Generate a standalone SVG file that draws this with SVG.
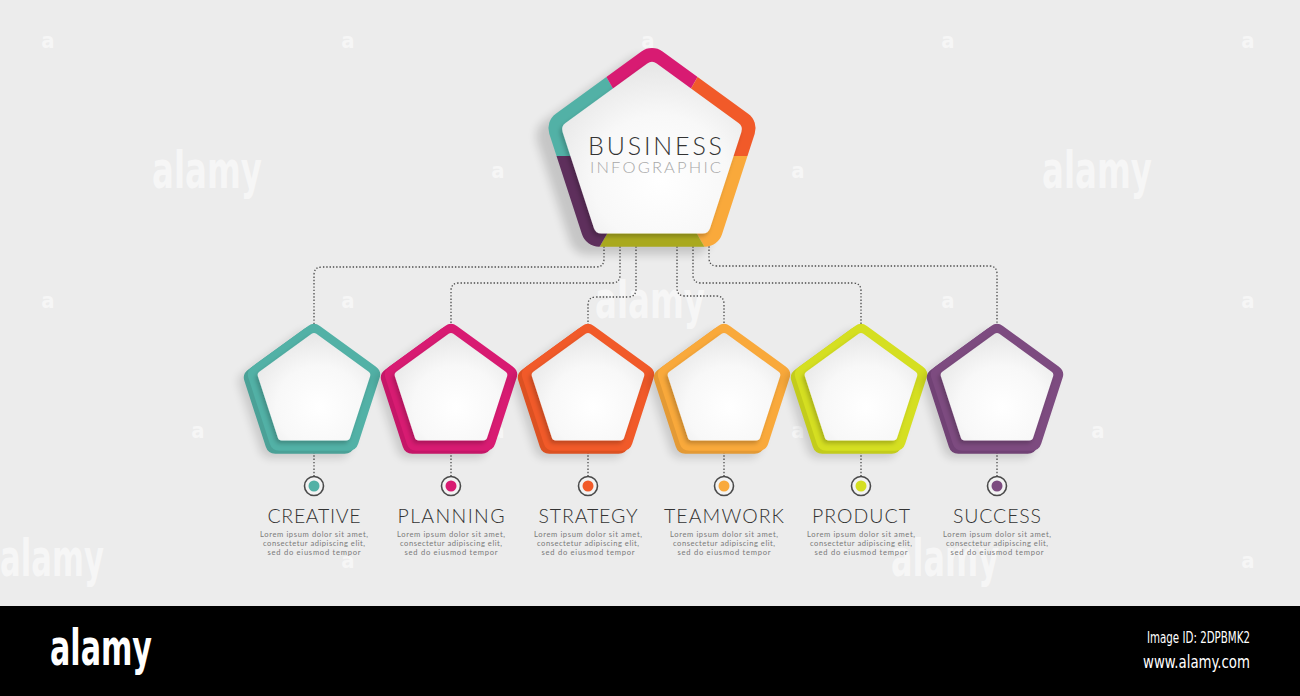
<svg xmlns="http://www.w3.org/2000/svg" xmlns:xlink="http://www.w3.org/1999/xlink" width="1300" height="696" viewBox="0 0 1300 696">
<style>
.conn{fill:none;stroke:#4a4a4a;stroke-width:1.3;stroke-dasharray:1.4 1.9;}
.lbl{font-family:Lato,"Open Sans","Liberation Sans",sans-serif;font-weight:300;font-size:19.5px;fill:#333;text-anchor:middle;}
.desc{font-family:Lato,"Open Sans","Liberation Sans",sans-serif;font-size:7.6px;fill:#7a7a7a;text-anchor:middle;}
.ring{stroke-width:20;stroke-linejoin:round;}
.inner{fill:url(#wg);stroke:url(#wg);stroke-width:8;stroke-linejoin:round;filter:url(#ds);}
.dotc{fill:#f3f3f3;stroke:#4a4a4a;stroke-width:1.6;}
.wm{font-family:"DejaVu Sans Condensed","DejaVu Sans",sans-serif;font-weight:bold;fill:#ffffff;fill-opacity:0.55;text-anchor:middle;}
.foot{font-family:"DejaVu Sans Condensed","DejaVu Sans",sans-serif;fill:#fff;}
.shd{fill:#000;opacity:0.15;stroke:#000;stroke-width:20;stroke-linejoin:round;filter:url(#sh);}
.ext{stroke-width:20;stroke-linejoin:round;filter:url(#dk);}
</style>
<defs>
<path id="po" d="M0,-59 L56.11,-18.23 L34.68,47.73 L-34.68,47.73 L-56.11,-18.23 Z"/>
<path id="pi" d="M0,-55 L52.31,-17 L32.33,44.5 L-32.33,44.5 L-52.31,-17 Z"/>
<radialGradient id="wg" cx="0.55" cy="0.7" r="0.75">
<stop offset="0" stop-color="#ffffff"/>
<stop offset="0.55" stop-color="#f8f8f8"/>
<stop offset="1" stop-color="#e6e6e6"/>
</radialGradient>
<filter id="ds" x="-30%" y="-30%" width="160%" height="160%">
<feDropShadow dx="-2" dy="3" stdDeviation="2" flood-color="#000" flood-opacity="0.22"/>
</filter>
<filter id="sh" x="-40%" y="-40%" width="180%" height="180%">
<feGaussianBlur stdDeviation="5"/>
</filter>
<filter id="dk" x="-20%" y="-20%" width="140%" height="140%">
<feComponentTransfer>
<feFuncR type="linear" slope="0.82"/>
<feFuncG type="linear" slope="0.82"/>
<feFuncB type="linear" slope="0.82"/>
</feComponentTransfer>
</filter>
<mask id="bigRing" maskUnits="userSpaceOnUse" x="400" y="0" width="500" height="300">
<path d="M652,66 L737.6,128.19 L704.9,228.81 L599.1,228.81 L566.4,128.19 Z" fill="#fff" stroke="#fff" stroke-width="36" stroke-linejoin="round"/>
</mask>
</defs>

<rect x="0" y="0" width="1300" height="606" fill="#ececec"/>

<g id="watermark">
<text class="wm" x="207" y="188" font-size="52" textLength="110" lengthAdjust="spacingAndGlyphs">alamy</text>
<text class="wm" x="1097" y="188" font-size="52" textLength="110" lengthAdjust="spacingAndGlyphs">alamy</text>
<text class="wm" x="650" y="318" font-size="52" textLength="110" lengthAdjust="spacingAndGlyphs">alamy</text>
<text class="wm" x="52" y="576" font-size="52" textLength="104" lengthAdjust="spacingAndGlyphs">alamy</text>
<text class="wm" x="945" y="576" font-size="52" textLength="108" lengthAdjust="spacingAndGlyphs">alamy</text>
<text class="wm" x="48" y="48" font-size="22">a</text>
<text class="wm" x="348" y="48" font-size="22">a</text>
<text class="wm" x="648" y="48" font-size="22">a</text>
<text class="wm" x="948" y="48" font-size="22">a</text>
<text class="wm" x="1248" y="48" font-size="22">a</text>
<text class="wm" x="498" y="178" font-size="22">a</text>
<text class="wm" x="798" y="178" font-size="22">a</text>
<text class="wm" x="48" y="308" font-size="22">a</text>
<text class="wm" x="348" y="308" font-size="22">a</text>
<text class="wm" x="948" y="308" font-size="22">a</text>
<text class="wm" x="1248" y="308" font-size="22">a</text>
<text class="wm" x="198" y="438" font-size="22">a</text>
<text class="wm" x="498" y="438" font-size="22">a</text>
<text class="wm" x="798" y="438" font-size="22">a</text>
<text class="wm" x="1098" y="438" font-size="22">a</text>
<text class="wm" x="348" y="568" font-size="22">a</text>
<text class="wm" x="1248" y="568" font-size="22">a</text>
</g>

<g id="connectors">
<path class="conn" d="M604,243 V259 Q604,267 596,267 H322 Q314,267 314,275 V324"/>
<path class="conn" d="M620,243 V275 Q620,283 612,283 H459 Q451,283 451,291 V324"/>
<path class="conn" d="M636,243 V289 Q636,297 628,297 H596 Q588,297 588,305 V324"/>
<path class="conn" d="M677,243 V288 Q677,296 685,296 H716 Q724,296 724,304 V324"/>
<path class="conn" d="M693,243 V275 Q693,283 701,283 H853 Q861,283 861,291 V324"/>
<path class="conn" d="M709,243 V258 Q709,266 717,266 H989 Q997,266 997,274 V324"/>
<path class="conn" d="M314,452 V476"/>
<path class="conn" d="M451,452 V476"/>
<path class="conn" d="M588,452 V476"/>
<path class="conn" d="M724,452 V476"/>
<path class="conn" d="M861,452 V476"/>
<path class="conn" d="M997,452 V476"/>
</g>

<g id="main">
<path d="M640,74 L725.6,136.19 L692.9,236.81 L587.1,236.81 L554.4,136.19 Z" fill="#000" opacity="0.16" stroke="#000" stroke-width="36" stroke-linejoin="round" filter="url(#sh)"/>
<g mask="url(#bigRing)">
<polygon points="652,156 452,156 552,-17.2" fill="#52b1a6"/>
<polygon points="652,156 552,-17.2 752,-17.2" fill="#d81b72"/>
<polygon points="652,156 752,-17.2 852,156" fill="#f15a29"/>
<polygon points="652,156 852,156 752,329.2" fill="#f9a93b"/>
<polygon points="652,156 752,329.2 552,329.2" fill="#a9a91e"/>
<polygon points="652,156 552,329.2 452,156" fill="#5e2f5c"/>
</g>
<path d="M652,70 L733.79,129.42 L702.55,225.57 L601.45,225.57 L570.21,129.42 Z" fill="url(#wg)" stroke="url(#wg)" stroke-width="16" stroke-linejoin="round" filter="url(#ds)"/>
<text x="588" y="155" font-family="Lato,'Open Sans','Liberation Sans',sans-serif" font-weight="300" font-size="25" fill="#333" textLength="134">BUSINESS</text>
<text x="590" y="173" font-family="Lato,'Open Sans','Liberation Sans',sans-serif" font-weight="300" font-size="16.5" fill="#a8a8a8" textLength="131">INFOGRAPHIC</text>
</g>

<g id="creative">
<use href="#po" class="shd" transform="translate(305,400)"/>
<use href="#po" class="ext" transform="translate(310,396)" stroke="#52b1a6" fill="#52b1a6"/>
<use href="#po" class="ring" transform="translate(314,393)" stroke="#52b1a6" fill="#52b1a6"/>
<use href="#pi" class="inner" transform="translate(314,392)"/>
<circle class="dotc" cx="314" cy="486" r="9.5"/>
<circle cx="314" cy="486" r="5.5" fill="#52b1a6"/>
<text class="lbl" x="314" y="523" textLength="93">CREATIVE</text>
<text class="desc" x="314" y="536.5" textLength="108">Lorem ipsum dolor sit amet,</text>
<text class="desc" x="314" y="545.5" textLength="102">consectetur adipiscing elit,</text>
<text class="desc" x="314" y="554.5" textLength="93">sed do eiusmod tempor</text>
</g>

<g id="planning">
<use href="#po" class="shd" transform="translate(442,400)"/>
<use href="#po" class="ext" transform="translate(447,396)" stroke="#d81b72" fill="#d81b72"/>
<use href="#po" class="ring" transform="translate(451,393)" stroke="#d81b72" fill="#d81b72"/>
<use href="#pi" class="inner" transform="translate(451,392)"/>
<circle class="dotc" cx="451" cy="486" r="9.5"/>
<circle cx="451" cy="486" r="5.5" fill="#d81b72"/>
<text class="lbl" x="451" y="523" textLength="107">PLANNING</text>
<text class="desc" x="451" y="536.5" textLength="108">Lorem ipsum dolor sit amet,</text>
<text class="desc" x="451" y="545.5" textLength="102">consectetur adipiscing elit,</text>
<text class="desc" x="451" y="554.5" textLength="93">sed do eiusmod tempor</text>
</g>

<g id="strategy">
<use href="#po" class="shd" transform="translate(579,400)"/>
<use href="#po" class="ext" transform="translate(584,396)" stroke="#f15a29" fill="#f15a29"/>
<use href="#po" class="ring" transform="translate(588,393)" stroke="#f15a29" fill="#f15a29"/>
<use href="#pi" class="inner" transform="translate(588,392)"/>
<circle class="dotc" cx="588" cy="486" r="9.5"/>
<circle cx="588" cy="486" r="5.5" fill="#f15a29"/>
<text class="lbl" x="588" y="523" textLength="99">STRATEGY</text>
<text class="desc" x="588" y="536.5" textLength="108">Lorem ipsum dolor sit amet,</text>
<text class="desc" x="588" y="545.5" textLength="102">consectetur adipiscing elit,</text>
<text class="desc" x="588" y="554.5" textLength="93">sed do eiusmod tempor</text>
</g>

<g id="teamwork">
<use href="#po" class="shd" transform="translate(715,400)"/>
<use href="#po" class="ext" transform="translate(720,396)" stroke="#f9a93b" fill="#f9a93b"/>
<use href="#po" class="ring" transform="translate(724,393)" stroke="#f9a93b" fill="#f9a93b"/>
<use href="#pi" class="inner" transform="translate(724,392)"/>
<circle class="dotc" cx="724" cy="486" r="9.5"/>
<circle cx="724" cy="486" r="5.5" fill="#f9a93b"/>
<text class="lbl" x="724" y="523" textLength="120">TEAMWORK</text>
<text class="desc" x="724" y="536.5" textLength="108">Lorem ipsum dolor sit amet,</text>
<text class="desc" x="724" y="545.5" textLength="102">consectetur adipiscing elit,</text>
<text class="desc" x="724" y="554.5" textLength="93">sed do eiusmod tempor</text>
</g>

<g id="product">
<use href="#po" class="shd" transform="translate(852,400)"/>
<use href="#po" class="ext" transform="translate(857,396)" stroke="#d5df21" fill="#d5df21"/>
<use href="#po" class="ring" transform="translate(861,393)" stroke="#d5df21" fill="#d5df21"/>
<use href="#pi" class="inner" transform="translate(861,392)"/>
<circle class="dotc" cx="861" cy="486" r="9.5"/>
<circle cx="861" cy="486" r="5.5" fill="#d5df21"/>
<text class="lbl" x="861" y="523" textLength="98">PRODUCT</text>
<text class="desc" x="861" y="536.5" textLength="108">Lorem ipsum dolor sit amet,</text>
<text class="desc" x="861" y="545.5" textLength="102">consectetur adipiscing elit,</text>
<text class="desc" x="861" y="554.5" textLength="93">sed do eiusmod tempor</text>
</g>

<g id="success">
<use href="#po" class="shd" transform="translate(988,400)"/>
<use href="#po" class="ext" transform="translate(993,396)" stroke="#7d4b80" fill="#7d4b80"/>
<use href="#po" class="ring" transform="translate(997,393)" stroke="#7d4b80" fill="#7d4b80"/>
<use href="#pi" class="inner" transform="translate(997,392)"/>
<circle class="dotc" cx="997" cy="486" r="9.5"/>
<circle cx="997" cy="486" r="5.5" fill="#7d4b80"/>
<text class="lbl" x="997" y="523" textLength="88">SUCCESS</text>
<text class="desc" x="997" y="536.5" textLength="108">Lorem ipsum dolor sit amet,</text>
<text class="desc" x="997" y="545.5" textLength="102">consectetur adipiscing elit,</text>
<text class="desc" x="997" y="554.5" textLength="93">sed do eiusmod tempor</text>
</g>

<g id="footer">
<rect x="0" y="606" width="1300" height="90" fill="#000"/>
<text class="foot" x="50" y="665" font-size="50" font-weight="bold" textLength="102" lengthAdjust="spacingAndGlyphs">alamy</text>
<text class="foot" x="1250" y="643" font-size="15" text-anchor="end" textLength="103" lengthAdjust="spacingAndGlyphs">Image ID: 2DPBMK2</text>
<text class="foot" x="1250" y="668" font-size="17" text-anchor="end" textLength="107" lengthAdjust="spacingAndGlyphs">www.alamy.com</text>
</g>
</svg>
